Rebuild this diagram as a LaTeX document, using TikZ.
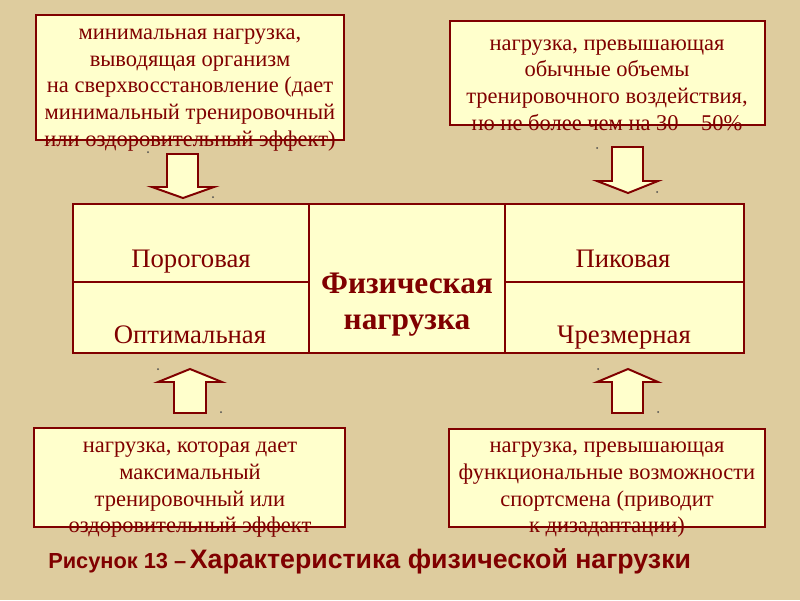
\documentclass[tikz,border=0pt]{standalone}
\usepackage{fontspec}
\setmainfont{Liberation Serif}
\newfontfamily\capfont{Liberation Sans}
\definecolor{parch}{RGB}{222,204,158}
\definecolor{cream}{RGB}{255,255,204}
\definecolor{maroon}{RGB}{128,0,0}
\tikzset{
  notebox/.style={draw=maroon, fill=cream, line width=1.4pt},
  notetext/.style={text=maroon, align=center, inner sep=0pt, font=\fontsize{16}{19}\selectfont},
  celltext/.style={text=maroon, inner sep=0pt, anchor=base, font=\fontsize{19}{22}\selectfont},
  blockarrow/.style={draw=maroon, fill=cream, line width=1.4pt, line join=miter},
  speck/.style={fill=black!70}
}
\begin{document}
\begin{tikzpicture}[x=0.025cm, y=-0.025cm]
    % Fond
    \fill[parch] (0,0) rectangle (800,600);

    % Tableau central
    \draw[notebox] (73,204) rectangle (744,353);
    \draw[maroon, line width=1.4pt] (309,204) -- (309,353);
    \draw[maroon, line width=1.4pt] (505,204) -- (505,353);
    \draw[maroon, line width=1.4pt] (73,282) -- (309,282);
    \draw[maroon, line width=1.4pt] (505,282) -- (744,282);
    \node[celltext] (porog) at (191,267) {Пороговая};
    \node[celltext] (optim) at (190,343) {Оптимальная};
    \node[celltext] (pik) at (623,267) {Пиковая};
    \node[celltext] (chrez) at (624,343) {Чрезмерная};
    \node[text=maroon, align=center, inner sep=0pt,
          font=\bfseries\fontsize{22.3}{25.5}\selectfont] (fiz) at (407,305) {Физическая\\нагрузка};

    % Cadres du haut
    \draw[notebox] (36,15) rectangle (344,140);
    \node[notetext] (minim) at (190,90) {минимальная нагрузка,\\выводящая организм\\на сверхвосстановление (дает\\минимальный тренировочный\\или оздоровительный эффект)};
    \draw[notebox] (450,21) rectangle (765,125);
    \node[notetext] (prev) at (607,85) {нагрузка, превышающая\\обычные объемы\\тренировочного воздействия,\\но не более чем на 30 – 50\%};

    % Cadres du bas
    \draw[notebox] (34,428) rectangle (345,527);
    \node[notetext] (maks) at (190,490) {нагрузка, которая дает\\максимальный\\тренировочный или\\оздоровительный эффект};
    \draw[notebox] (449,429) rectangle (765,527);
    \node[notetext] (dezad) at (607,490) {нагрузка, превышающая\\функциональные возможности\\спортсмена (приводит\\к дизадаптации)};

    % Fleches
    \draw[blockarrow] (167,154) -- (198,154) -- (198,187) -- (214,187) -- (183,198) -- (152,187) -- (167,187) -- cycle;
    \draw[blockarrow] (612,147) -- (643,147) -- (643,181) -- (658,181) -- (628,193) -- (597,181) -- (612,181) -- cycle;
    \draw[blockarrow] (174,413) -- (206,413) -- (206,382) -- (222,382) -- (190,369) -- (158,382) -- (174,382) -- cycle;
    \draw[blockarrow] (612,413) -- (643,413) -- (643,382) -- (658,382) -- (628,369) -- (597,382) -- (612,382) -- cycle;

    % Points
    \foreach \px/\py in {148/152, 213/197, 597/148, 657/192, 158/369, 221/412, 598/369, 658/412}
      \fill[speck] (\px,\py) circle (1);

    % Legende
    \node[anchor=base west, inner sep=0pt, text=maroon] (legende) at (48,568)
      {{\capfont\bfseries\fontsize{15.5}{17}\selectfont Рисунок 13 –} {\capfont\bfseries\fontsize{19}{22}\selectfont Характеристика физической нагрузки}};
\end{tikzpicture}
\end{document}
